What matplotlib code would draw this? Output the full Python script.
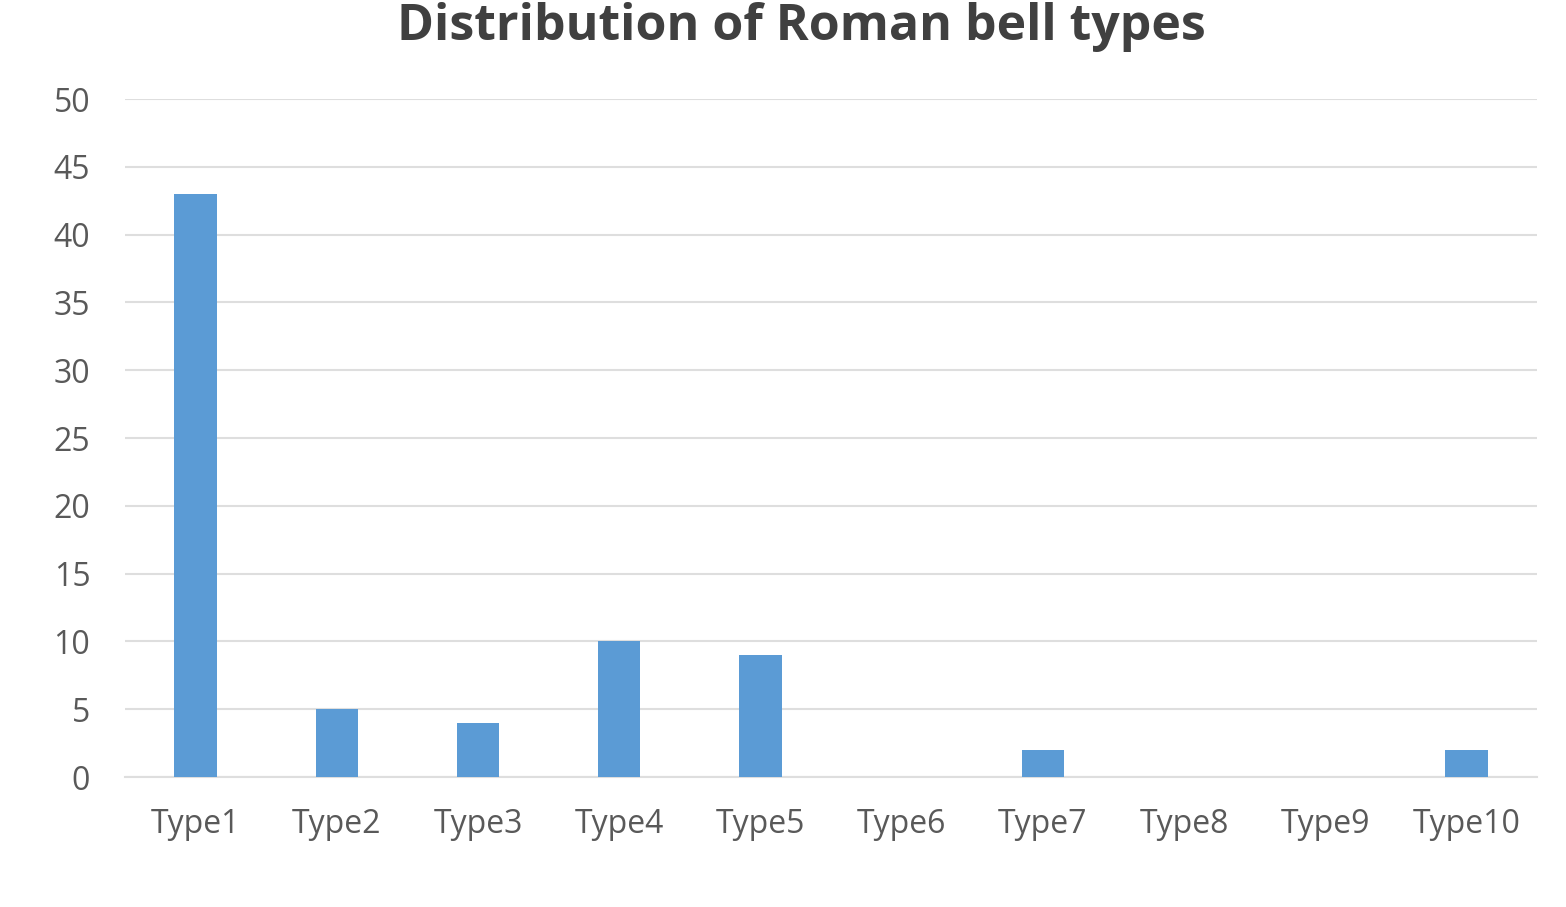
import matplotlib.pyplot as plt
import numpy as np

# Bell type counts
types = ['Type1', 'Type2', 'Type3', 'Type4', 'Type5',
         'Type6', 'Type7', 'Type8', 'Type9', 'Type10']
counts = [43, 5, 4, 10, 9, 0, 2, 0, 0, 2]
yticks = [0, 5, 10, 15, 20, 25, 30, 35, 40, 45, 50]

plt.rcParams['font.family'] = ['Open Sans', 'DejaVu Sans']

fig = plt.figure(figsize=(15.66, 9.07), dpi=100)
ax = fig.add_axes([0.0798, 0.1433, 0.9017, 0.7475])

x = np.arange(len(types))
ax.bar(x, counts, width=0.3, color='#5B9BD5', linewidth=0, zorder=3)

ax.set_xlim(-0.5, len(types) - 0.5)
ax.set_ylim(0, 50)
ax.set_yticks(yticks)
ax.set_xticks(x)
ax.set_xticklabels(types)
ax.grid(axis='y', color='#DEDEDE', linewidth=1.5, zorder=0)
ax.tick_params(axis='both', length=0, labelsize=23, colors='#595959')
ax.tick_params(axis='x', pad=22)
ax.tick_params(axis='y', pad=25)
for s in ['top', 'right', 'left']:
    ax.spines[s].set_visible(False)
ax.spines['bottom'].set_color('#DEDEDE')
ax.spines['bottom'].set_linewidth(1.5)

# title sits right at the top edge, as in the original
fig.text(0.512, 1 - 40 / 907, 'Distribution of Roman bell types', ha='center', va='baseline',
         fontsize=36, fontweight='bold', color='#404040')

fig.savefig('out.png', dpi=100)
